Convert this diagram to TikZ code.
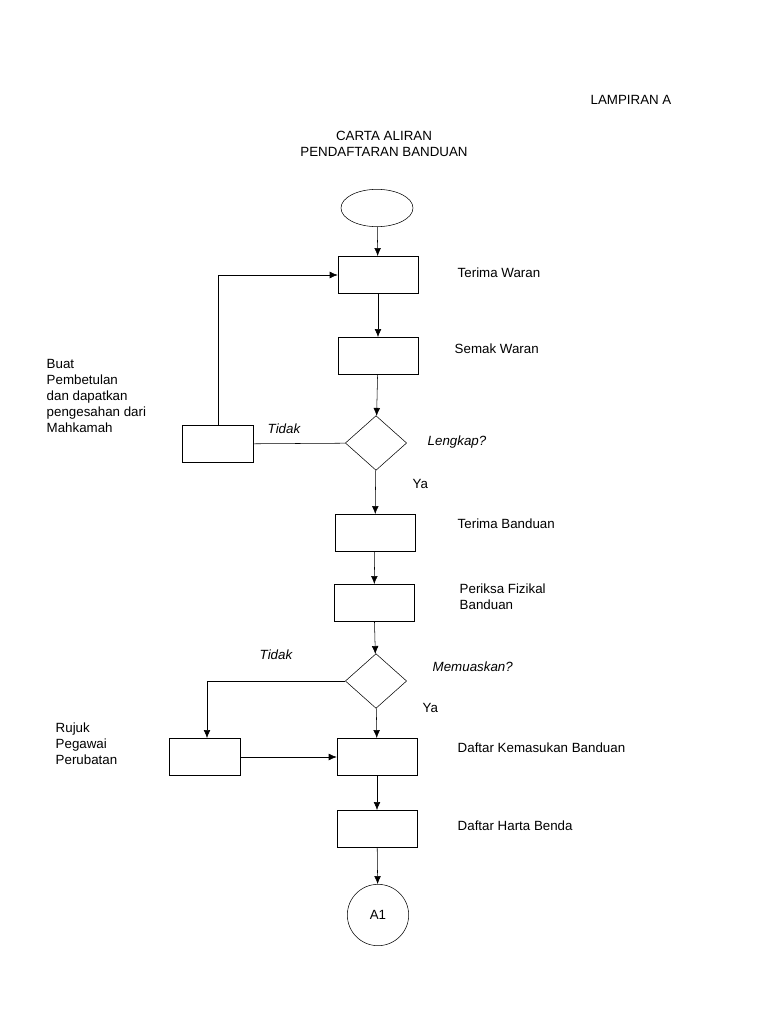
\documentclass[tikz,border=0pt]{standalone}
\usepackage{fontspec}
\setmainfont{Liberation Sans}
\usetikzlibrary{shapes.geometric, arrows.meta, positioning}

\begin{document}
\begin{tikzpicture}[
        x=0.75pt, y=-0.75pt,
        box/.style={rectangle, draw, minimum height=28pt, minimum width=60pt},
        sbox/.style={rectangle, draw, minimum height=28pt, minimum width=53pt},
        dec/.style={diamond, draw, minimum width=46pt, minimum height=41pt, inner sep=0pt},
        lbl/.style={anchor=west, align=left, font=\fontsize{10}{12}\selectfont},
        ilbl/.style={lbl, font=\fontsize{10}{12}\selectfont\itshape},
        arrow/.style={-{Latex[length=6pt,width=5pt]}},
        every node/.style={font=\fontsize{10}{12}\selectfont}
    ]
        \useasboundingbox (0,0) rectangle (768,1024);
        % Headings
        \node at (631,100) {LAMPIRAN A};
        \node[align=center] at (384,144) {CARTA ALIRAN\\PENDAFTARAN BANDUAN};

        % Main column
        \node[ellipse, draw, minimum width=54pt, minimum height=28pt] (start) at (377,208) {};
        \node[box] (terima) at (378,275) {};
        \node[box] (semak) at (378,356) {};
        \node[dec] (lengkap) at (376,443) {};
        \node[box] (tbanduan) at (375,533) {};
        \node[box] (periksa) at (374,603) {};
        \node[dec] (puas) at (376,681) {};
        \node[box] (daftar) at (377,757) {};
        \node[box] (harta) at (377,829) {};
        \node[circle, draw, minimum size=46pt] (a1) at (378,915) {A1};

        % Side boxes
        \node[sbox] (betul) at (218,444) {};
        \node[sbox] (rujuk) at (205,757) {};
        \coordinate (up) at (218,275);
        \coordinate (turn) at (207,681);

        % Labels
        \node[lbl] at (453,273) {Terima Waran};
        \node[lbl] at (450,349) {Semak Waran};
        \node[ilbl] at (423,442) {Lengkap?};
        \node[ilbl] at (263,429) {Tidak};
        \node[lbl] at (408,484) {Ya};
        \node[lbl, anchor=north west] at (42,355) {Buat\\Pembetulan\\dan dapatkan\\pengesahan dari\\Mahkamah};
        \node[lbl] at (453,524) {Terima Banduan};
        \node[lbl] at (455,597) {Periksa Fizikal\\Banduan};
        \node[ilbl] at (428,667) {Memuaskan?};
        \node[ilbl] at (255,655) {Tidak};
        \node[lbl] at (418,708) {Ya};
        \node[lbl, anchor=north west] at (51,718) {Rujuk\\Pegawai\\Perubatan};
        \node[lbl] at (453,748) {Daftar Kemasukan Banduan};
        \node[lbl] at (453,826) {Daftar Harta Benda};

        % Arrows
        \draw[arrow] (start) -- (terima);
        \draw[arrow] (terima) -- (semak);
        \draw[arrow] (semak) -- (lengkap);
        \draw (lengkap) -- (betul);
        \draw[arrow] (betul.north) -- (up) -- (terima);
        \draw[arrow] (lengkap) -- (tbanduan);
        \draw[arrow] (tbanduan) -- (periksa);
        \draw[arrow] (periksa) -- (puas);
        \draw[arrow] (puas.west) -- (turn) -- (turn |- rujuk.north);
        \draw[arrow] (puas) -- (daftar);
        \draw[arrow] (rujuk) -- (daftar);
        \draw[arrow] (daftar) -- (harta);
        \draw[arrow] (harta) -- (a1);
    \end{tikzpicture}
\end{document}
